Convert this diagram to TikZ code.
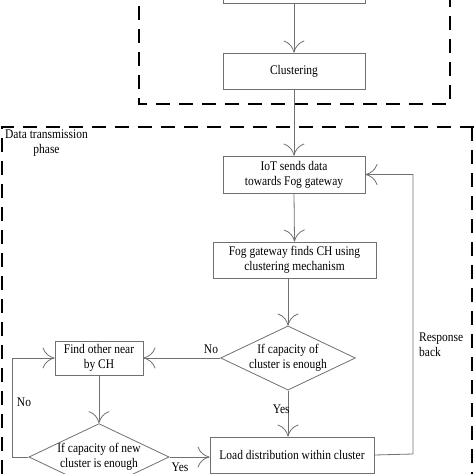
\documentclass[tikz,border=0pt]{standalone}
\usepackage{fontspec}
\setmainfont{Liberation Serif}[FakeStretch=0.87]
\usetikzlibrary{arrows.meta,shapes.geometric}
\definecolor{ln}{HTML}{707070}
\newcommand{\txtfont}{\fontsize{13.2}{15}\selectfont}
\tikzset{
  box/.style={draw=ln, line width=0.8pt, rectangle, inner sep=0pt, align=center, font=\txtfont},
  dia/.style={draw=ln, line width=0.8pt, diamond, inner sep=0pt, align=center, font=\txtfont},
  conn/.style={draw=ln, line width=0.8pt, -{Computer Modern Rightarrow[length=12pt,width=21pt,line width=0.8pt]}},
  phase/.style={draw=black, line width=2.6pt, dash pattern=on 14pt off 9pt},
  lbl/.style={font=\txtfont, inner sep=0pt, align=left}
}
\begin{document}
\begin{tikzpicture}[x=1pt,y=-1pt]
\useasboundingbox (0,0) rectangle (474,474);
\clip (0,0) rectangle (474,474);
% phase boxes
\draw[phase] (139,-40) -- (139,104) -- (450,104) -- (450,-40);
\draw[phase] (474,127) -- (2,127) -- (2,500);
\draw[phase] (472,127) -- (472,500);
\node[lbl, anchor=north west, align=center] (ph) at (5,130) {Data transmission\\phase};
% nodes
\node[box, minimum width=142pt, minimum height=36pt] (top) at (294,-15) {};
\node[box, minimum width=142pt, minimum height=36pt] (clu) at (294,71) {Clustering};
\node[box, minimum width=142pt, minimum height=37pt] (iot) at (294,174.5) {IoT sends data\\towards Fog gateway};
\node[box, minimum width=163pt, minimum height=36pt] (fog) at (294.5,260) {Fog gateway finds CH using\\clustering mechanism};
\node[dia, minimum width=127pt, minimum height=60pt, aspect=2.1] (d1) at (288,358) {If capacity of\\cluster is enough};
\node[box, minimum width=164pt, minimum height=36pt] (load) at (292,455) {Load distribution within cluster};
\node[box, minimum width=88pt, minimum height=34pt] (find) at (99,358) {Find other near\\by CH};
\node[dia, minimum width=128pt, minimum height=60pt, aspect=2.1] (d2) at (99,457) {If capacity of new\\cluster is enough};
% connectors
\draw[conn] (top.south) -- (clu.north);
\draw[conn] (clu.south) -- (iot.north);
\draw[conn] (iot.south) -- (fog.north);
\draw[conn] (fog.south -| d1.north) -- (d1.north);
\draw[conn] (d1.south) -- node[lbl, left, pos=0.4, xshift=2pt] (yes1) {Yes} (d1.south |- load.north);
\draw[conn] (d1.west) -- node[lbl, above, pos=0.12, yshift=4pt] (no1) {No} (find.east |- d1.west);
\draw[conn] (find.south) -- (d2.north);
\coordinate (nl) at (12,457);
\draw[conn] (d2.west) -- (nl) |- (find.west);
\node[lbl] (no2) at (24,402) {No};
\draw[conn] (d2.east) -- (load.west |- d2.east);
\node[lbl] (yes2) at (180,467) {Yes};
\coordinate (rb) at (413,454);
\draw[conn] (load.east) -- (rb) |- (iot.east);
\node[lbl, anchor=west] (resp) at (419,345) {Response\\back};
\end{tikzpicture}
\end{document}
